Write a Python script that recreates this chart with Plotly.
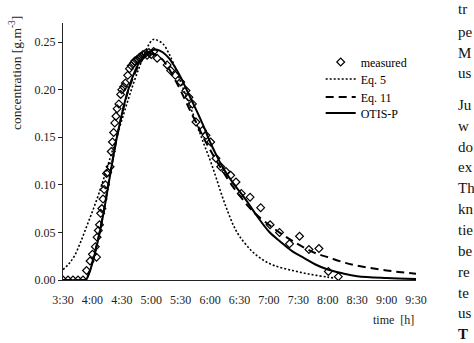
import plotly.graph_objects as go

# ---- data (time in decimal hours, concentration in g/m3) ----
meas_t = [3.50, 3.585, 3.67, 3.755, 3.84, 3.90, 3.96, 4.00, 4.07, 4.05, 4.08, 4.10, 4.12, 4.14,
          4.16, 4.18, 4.20, 4.22, 4.24, 4.26, 4.30, 4.32, 4.34, 4.36, 4.38, 4.40, 4.42, 4.45,
          4.48, 4.50, 4.53, 4.56, 4.60, 4.63, 4.66, 4.70, 4.72, 4.75, 4.78, 4.80, 4.83, 4.86,
          4.90, 4.93, 4.96, 5.00, 5.04, 5.10, 5.27, 5.33, 5.41, 5.50, 5.59, 5.64, 5.70, 5.76,
          5.87, 5.93, 6.01, 6.10, 6.18, 6.27, 6.35, 6.44, 6.53, 6.68, 6.86, 7.02, 7.18, 7.35,
          7.52, 7.68, 7.85, 8.01, 8.18]
meas_c = [0.0, 0.0, 0.0, 0.0, 0.0, 0.010, 0.020, 0.027, 0.024, 0.035, 0.045, 0.052, 0.058, 0.070,
          0.075, 0.085, 0.095, 0.100, 0.112, 0.113, 0.119, 0.135, 0.145, 0.155, 0.165, 0.172, 0.180, 0.185,
          0.195, 0.200, 0.203, 0.207, 0.215, 0.222, 0.225, 0.228, 0.230, 0.231, 0.232, 0.234, 0.235, 0.237,
          0.238, 0.236, 0.239, 0.237, 0.240, 0.233, 0.226, 0.220, 0.215, 0.208, 0.199, 0.192, 0.185, 0.166,
          0.157, 0.152, 0.145, 0.128, 0.119, 0.114, 0.110, 0.103, 0.091, 0.087, 0.076, 0.058, 0.050, 0.038,
          0.046, 0.032, 0.033, 0.009, 0.0035]

eq5_t = [3.50, 3.60, 3.70, 3.80, 3.90, 4.00, 4.10, 4.20, 4.30, 4.40, 4.50, 4.60, 4.70, 4.80, 4.90,
         5.00, 5.05, 5.10, 5.20, 5.30, 5.40, 5.50, 5.60, 5.70, 5.80, 5.90, 6.00, 6.10, 6.20, 6.30,
         6.40, 6.50, 6.70, 6.90, 7.10, 7.40, 7.70, 8.00, 8.12]
eq5_c = [0.011, 0.017, 0.026, 0.040, 0.056, 0.072, 0.089, 0.108, 0.128, 0.148, 0.168, 0.188, 0.207,
         0.224, 0.240, 0.251, 0.253, 0.252, 0.248, 0.238, 0.224, 0.208, 0.192, 0.176, 0.159, 0.142,
         0.126, 0.108, 0.089, 0.072, 0.057, 0.046, 0.031, 0.021, 0.015, 0.010, 0.006, 0.003, 0.002]

eq11_t = [3.50, 3.85, 3.90, 3.95, 4.00, 4.05, 4.10, 4.15, 4.20, 4.25, 4.30, 4.35, 4.40, 4.45, 4.50,
          4.55, 4.60, 4.70, 4.80, 4.90, 5.00, 5.10, 5.20, 5.30, 5.40, 5.50, 5.60, 5.70, 5.80, 5.90,
          6.00, 6.10, 6.20, 6.30, 6.40, 6.50, 6.60, 6.70, 6.80, 7.00, 7.20, 7.40, 7.60, 7.80, 8.00,
          8.30, 8.60, 9.00, 9.50]
eq11_c = [0.0, 0.0, 0.002, 0.009, 0.019, 0.031, 0.044, 0.059, 0.075, 0.093, 0.111, 0.128, 0.145,
          0.160, 0.174, 0.186, 0.197, 0.214, 0.227, 0.235, 0.238, 0.236, 0.231, 0.222, 0.211, 0.199,
          0.186, 0.173, 0.161, 0.148, 0.137, 0.126, 0.116, 0.106, 0.097, 0.089, 0.081, 0.074, 0.068,
          0.058, 0.049, 0.041, 0.034, 0.028, 0.024, 0.018, 0.014, 0.010, 0.0065]

otis_t = [3.50, 3.85, 3.90, 3.95, 4.00, 4.05, 4.10, 4.15, 4.20, 4.25, 4.30, 4.35, 4.40, 4.45, 4.50,
          4.55, 4.60, 4.70, 4.80, 4.90, 5.00, 5.10, 5.20, 5.30, 5.40, 5.50, 5.60, 5.70, 5.80, 5.90,
          6.00, 6.10, 6.20, 6.30, 6.40, 6.50, 6.60, 6.80, 7.00, 7.20, 7.40, 7.60, 7.80, 8.00, 8.25,
          8.50, 9.00, 9.50]
otis_c = [0.0, 0.0, 0.001, 0.008, 0.018, 0.030, 0.043, 0.058, 0.074, 0.092, 0.110, 0.128, 0.145,
          0.160, 0.174, 0.187, 0.198, 0.216, 0.229, 0.237, 0.241, 0.242, 0.239, 0.233, 0.224, 0.213,
          0.200, 0.187, 0.174, 0.160, 0.145, 0.132, 0.120, 0.110, 0.101, 0.093, 0.085, 0.067, 0.051,
          0.040, 0.030, 0.023, 0.016, 0.011, 0.007, 0.004, 0.002, 0.001]

tick_vals = [3.5, 4.0, 4.5, 5.0, 5.5, 6.0, 6.5, 7.0, 7.5, 8.0, 8.5, 9.0, 9.5]
tick_text = ["3:30", "4:00", "4:30", "5:00", "5:30", "6:00", "6:30", "7:00", "7:30", "8:00",
             "8:30", "9:00", "9:30"]

side_text = ["tr", "pe", "M", "us", "Ju", "w", "do", "ex", "Th", "kn", "tie", "be", "re",
             "te", "us", "<b>T</b>"]
side_y = [9, 32, 53, 73, 105, 126, 147, 167, 188, 209, 230, 251, 272, 293, 313, 334]

FONT = "Liberation Serif, Times New Roman, serif"

W, H = 474, 343
ml, mr, mt, mb = 63, 58, 23, 63
PW, PH = W - ml - mr, H - mt - mb
legend_rows = [62, 79, 97, 113]   # pixel rows of the legend entries

fig = go.Figure()
fig.add_trace(go.Scatter(x=meas_t, y=meas_c, mode="markers", name="measured", legend="legend",
                         marker=dict(symbol="diamond-open", size=6, color="black",
                                     line=dict(width=1.2, color="black"))))
fig.add_trace(go.Scatter(x=eq5_t, y=eq5_c, mode="lines", name="Eq. 5", line_shape="spline",
                         legend="legend2",
                         line=dict(color="black", width=1.6, dash="2px,2px")))
fig.add_trace(go.Scatter(x=eq11_t, y=eq11_c, mode="lines", name="Eq. 11", line_shape="spline",
                         legend="legend3",
                         line=dict(color="black", width=2, dash="8px,5px")))
fig.add_trace(go.Scatter(x=otis_t, y=otis_c, mode="lines", name="OTIS-P", line_shape="spline",
                         legend="legend4",
                         line=dict(color="black", width=2)))


def leg(row):
    return dict(x=0.73, y=(H - mb - row) / PH, xanchor="left", yanchor="middle",
                bgcolor="rgba(0,0,0,0)", borderwidth=0,
                font=dict(family=FONT, size=12, color="black"), itemwidth=30)


fig.update_layout(
    width=W, height=H,
    margin=dict(l=ml, r=mr, t=mt, b=mb),
    paper_bgcolor="white", plot_bgcolor="white",
    font=dict(family=FONT, size=12, color="black"),
    showlegend=True,
    legend=leg(legend_rows[0]), legend2=leg(legend_rows[1]),
    legend3=leg(legend_rows[2]), legend4=leg(legend_rows[3]),
    xaxis=dict(range=[3.5, 9.5], tickvals=tick_vals, ticktext=tick_text,
               showgrid=False, zeroline=False, showline=True, linecolor="#222",
               linewidth=1.2, ticks="", ticklabelstandoff=8,
               tickfont=dict(family=FONT, size=12, color="#222")),
    yaxis=dict(range=[0, 0.27], tickvals=[0, 0.05, 0.10, 0.15, 0.20, 0.25],
               tickformat=".2f", showgrid=False, zeroline=False, showline=True,
               linecolor="#222", linewidth=1.2, ticks="outside", ticklen=4,
               tickcolor="#222", tickfont=dict(family=FONT, size=12, color="#222")),
)

annotations = [
    dict(text="concentration [g.m<sup>-3</sup>]", xref="paper", yref="paper",
         x=-(ml - 15) / PW, y=(H - mb - 73) / PH,
         xanchor="center", yanchor="middle", textangle=-90, showarrow=False,
         font=dict(family=FONT, size=13.5, color="#222")),
    dict(text="time  [h]", xref="paper", yref="paper", x=1.0,
         y=-(320 - (H - mb)) / PH, xanchor="right", yanchor="middle",
         showarrow=False, font=dict(family=FONT, size=12, color="#222")),
]
for txt, yy in zip(side_text, side_y):
    annotations.append(dict(text=txt, xref="paper", yref="paper",
                            x=(456 - ml) / PW, y=(H - mb - yy) / PH,
                            xanchor="left", yanchor="middle", showarrow=False,
                            font=dict(family=FONT, size=15, color="#111")))
fig.update_layout(annotations=annotations)

fig.write_html("out.html")
